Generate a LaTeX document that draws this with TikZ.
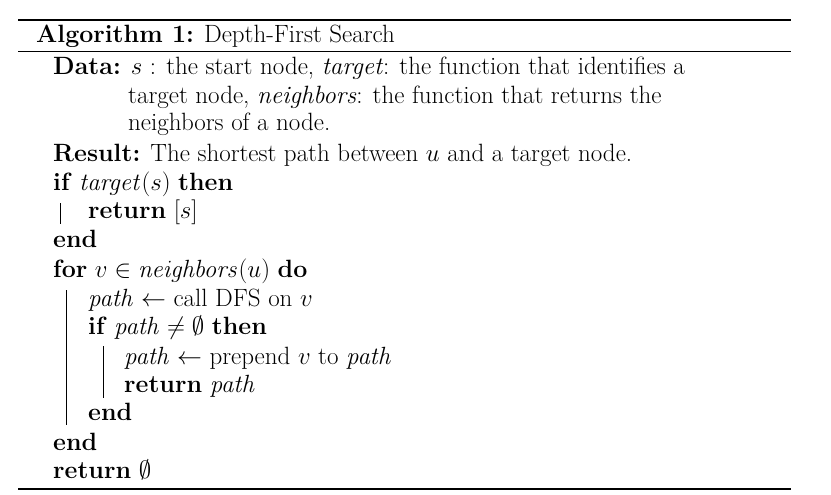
\documentclass[tikz,border=0pt]{standalone}
\usepackage{amsmath,amssymb}
\begin{document}
\begin{tikzpicture}[x=1pt,y=-1pt,
  txt/.style={anchor=base west,inner sep=0pt,font=\fontsize{25}{30}\selectfont},
  rule/.style={line width=1.6pt},
  bar/.style={line width=0.8pt}]
\useasboundingbox (0,0) rectangle (831,495);
\coordinate (r1a) at (18,20); \coordinate (r1b) at (791,20);
\coordinate (r2a) at (18,52); \coordinate (r2b) at (791,52);
\coordinate (r3a) at (18,489); \coordinate (r3b) at (791,489);
\draw[rule] (r1a) -- (r1b);
\draw[line width=1pt] (r2a) -- (r2b);
\draw[rule] (r3a) -- (r3b);
\node[txt] (title) at (36,43) {\textbf{Algorithm 1:} Depth-First Search};
\node[txt] (d1) at (53,75) {\textbf{Data:} $s$ : the start node, \textit{target}: the function that identifies a};
\node[txt] (d2) at (128,103) {target node, \textit{neighbors}: the function that returns the};
\node[txt] (d3) at (128,131) {neighbors of a node.};
\node[txt] (res) at (53,161) {\textbf{Result:} The shortest path between $u$ and a target node.};
\node[txt] (if1) at (53,190) {\textbf{if} $\mathit{target}(s)$ \textbf{then}};
\node[txt] (ret1) at (88,218) {\textbf{return} $[s]$};
\node[txt] (end1) at (53,247) {\textbf{end}};
\node[txt] (for) at (53,277) {\textbf{for} $v\in\mathit{neighbors}(u)$ \textbf{do}};
\node[txt] (p1) at (88,306) {$\mathit{path}\leftarrow$ call DFS on $v$};
\node[txt] (if2) at (88,334) {\textbf{if} $\mathit{path}\neq\emptyset$ \textbf{then}};
\node[txt] (p2) at (124,364) {$\mathit{path}\leftarrow$ prepend $v$ to $\mathit{path}$};
\node[txt] (ret2) at (124,392) {\textbf{return} $\mathit{path}$};
\node[txt] (end2) at (88,420) {\textbf{end}};
\node[txt] (end3) at (53,450) {\textbf{end}};
\node[txt] (ret3) at (53,478) {\textbf{return} $\emptyset$};
\coordinate (b1a) at (60,203); \coordinate (b1b) at (60,224);
\coordinate (b2a) at (66,290); \coordinate (b2b) at (66,425);
\coordinate (b3a) at (103,346); \coordinate (b3b) at (103,398);
\draw[bar] (b1a) -- (b1b);
\draw[bar] (b2a) -- (b2b);
\draw[bar] (b3a) -- (b3b);
\end{tikzpicture}
\end{document}
